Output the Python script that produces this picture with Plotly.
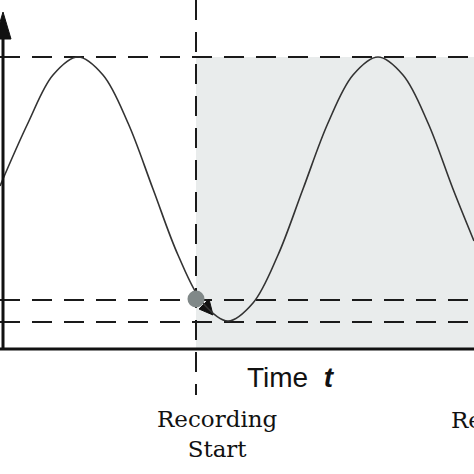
import plotly.graph_objects as go

# Schematic signal (time, value)
curve_t = [0, 28, 53, 78, 103, 128, 153, 178, 203, 228, 253, 278, 303, 328, 353, 378,
           403, 428, 453, 474]
curve_v = [3, 66, 114, 132, 114, 66, 0, -66, -114, -132, -114, -66, 0, 66, 114, 132,
           114, 66, 0, -52]

# Reference levels
peak_level = 132
start_level = -111
trough_level = -133
axis_level = -160

# Recording start instant
rec_start_t = 196
rec_start_v = -110

x_range = [0, 474]
y_range = [-285, 189]

dash_style = dict(color="#1a1a1a", width=2, dash="20px,12px")

fig = go.Figure()

shapes = []
# shaded recording region
shapes.append(dict(type="rect", xref="x", yref="y", x0=rec_start_t, x1=x_range[1],
                   y0=axis_level, y1=peak_level, fillcolor="#e9ecec",
                   line=dict(width=0), layer="below"))
# horizontal dashed levels
for lv in [peak_level, start_level, trough_level]:
    shapes.append(dict(type="line", xref="x", yref="y", x0=x_range[0], x1=x_range[1],
                       y0=lv, y1=lv, line=dash_style, layer="below"))
# vertical dashed line at recording start
shapes.append(dict(type="line", xref="x", yref="y", x0=rec_start_t, x1=rec_start_t,
                   y0=y_range[1], y1=-206, line=dash_style, layer="below"))
# small arrowhead next to the dot
shapes.append(dict(type="path", xref="x", yref="y",
                   path="M 209 -110 L 213 -126 L 199 -120 Z",
                   fillcolor="#111", line=dict(color="#111", width=1), layer="below"))
# x axis
shapes.append(dict(type="line", xref="x", yref="y", x0=x_range[0], x1=x_range[1],
                   y0=axis_level, y1=axis_level, line=dict(color="#111", width=3)))
# y axis
shapes.append(dict(type="line", xref="x", yref="y", x0=3, x1=3,
                   y0=axis_level, y1=150, line=dict(color="#111", width=3)))
# y axis arrowhead
shapes.append(dict(type="path", xref="x", yref="y",
                   path="M -5 150 L 3 177 L 11 150 Z",
                   fillcolor="#111", line=dict(color="#111", width=1)))

fig.add_trace(go.Scatter(x=curve_t, y=curve_v, mode="lines",
                         line=dict(color="#333333", width=1.6, shape="spline", smoothing=1.0),
                         hoverinfo="skip", showlegend=False))

fig.add_trace(go.Scatter(x=[rec_start_t], y=[rec_start_v], mode="markers",
                         marker=dict(size=17, color="#808888"),
                         hoverinfo="skip", showlegend=False))

annotations = [
    dict(x=245, y=-188, xref="x", yref="y", xanchor="left", yanchor="middle",
         text="Time  <b><i>t</i></b>", showarrow=False,
         font=dict(family="Liberation Sans, Arial", size=28, color="#111")),
    dict(x=217, y=-245, xref="x", yref="y", xanchor="center", yanchor="middle",
         text="Recording<br>Start", showarrow=False, align="center",
         font=dict(family="DejaVu Serif, serif", size=23, color="#111")),
    dict(x=449, y=-231, xref="x", yref="y", xanchor="left", yanchor="middle",
         text="Recording", showarrow=False, align="left",
         font=dict(family="DejaVu Serif, serif", size=23, color="#111")),
]

fig.update_layout(
    width=474, height=474,
    margin=dict(l=0, r=0, t=0, b=0),
    paper_bgcolor="white", plot_bgcolor="white",
    xaxis=dict(range=x_range, visible=False, fixedrange=True),
    yaxis=dict(range=y_range, visible=False, fixedrange=True),
    shapes=shapes, annotations=annotations, showlegend=False,
)

fig.write_html("out.html", config={"displayModeBar": False, "staticPlot": True},
               post_script="document.body.style.margin='0';document.body.style.overflow='hidden';")
